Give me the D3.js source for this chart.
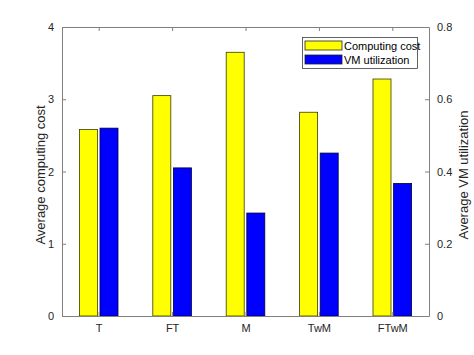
<!DOCTYPE html>
<html><head><meta charset="utf-8">
<script src="https://cdn.jsdelivr.net/npm/d3@7"></script>
<style>body{margin:0;background:#fff}svg{display:block}text{font-family:"Liberation Sans",Arial,sans-serif}</style>
</head><body><svg id="c" width="474" height="355"></svg>
<script>
const categories = ["T","FT","M","TwM","FTwM"];
const computingCost = [2.58, 3.05, 3.65, 2.82, 3.28];
const vmUtilization = [0.52, 0.41, 0.285, 0.451, 0.367];
const leftTicks = [0,1,2,3,4];
const rightTicks = [0,0.2,0.4,0.6,0.8];
const seriesNames = ["Computing cost","VM utilization"];

(function(){
const svg = d3.select("#c");
const L=62,R=429,T=27,B=316;
const x = d3.scaleLinear().domain([0.5,5.5]).range([L,R]);
const yl = d3.scaleLinear().domain([0,4]).range([B,T]);
const yr = d3.scaleLinear().domain([0,0.8]).range([B,T]);
const bw = 18, off = 10.3;
const axisCol="#808080", txtCol="#262626";

const g = svg.append("g");
g.selectAll(".yb").data(computingCost).join("rect")
 .attr("x",(d,i)=>x(i+1)-off-bw/2).attr("y",d=>yl(d)).attr("width",bw).attr("height",d=>B-yl(d))
 .attr("fill","#ffff00").attr("stroke","#3a3a00").attr("stroke-width",0.8);
g.selectAll(".bb").data(vmUtilization).join("rect")
 .attr("x",(d,i)=>x(i+1)+off-bw/2).attr("y",d=>yr(d)).attr("width",bw).attr("height",d=>B-yr(d))
 .attr("fill","#0000ff").attr("stroke","#000033").attr("stroke-width",0.8);

const tl=4;
const axBottom = d3.axisBottom(x).tickValues(d3.range(1,6)).tickFormat((d,i)=>categories[i]).tickSizeInner(-tl).tickSizeOuter(0).tickPadding(8);
const axTop = d3.axisTop(x).tickValues(d3.range(1,6)).tickFormat("").tickSizeInner(-tl).tickSizeOuter(0);
const axLeft = d3.axisLeft(yl).tickValues(leftTicks).tickFormat(d3.format("d")).tickSizeInner(-tl).tickSizeOuter(0).tickPadding(8);
const axRight = d3.axisRight(yr).tickValues(rightTicks).tickFormat(d=>d===0?"0":d3.format(".1f")(d)).tickSizeInner(-tl).tickSizeOuter(0).tickPadding(8);
function style(s){s.selectAll("path,line").attr("stroke",axisCol);s.selectAll("text").attr("fill",txtCol).attr("font-size",11).attr("font-family","Liberation Sans, Arial, sans-serif");s.attr("font-size",11);}
svg.append("g").attr("transform",`translate(0,${B})`).call(axBottom).call(style);
svg.append("g").attr("transform",`translate(0,${T})`).call(axTop).call(style);
svg.append("g").attr("transform",`translate(${L},0)`).call(axLeft).call(style);
svg.append("g").attr("transform",`translate(${R},0)`).call(axRight).call(style);

svg.append("text").attr("transform",`translate(45,175) rotate(-90)`).attr("text-anchor","middle")
 .attr("font-size",13).attr("fill",txtCol).text("Average computing cost");
svg.append("text").attr("transform",`translate(468,175) rotate(-90)`).attr("text-anchor","middle")
 .attr("font-size",13).attr("fill",txtCol).text("Average VM utilization");

const lg = svg.append("g");
lg.append("rect").attr("x",302.5).attr("y",37.5).attr("width",115).attr("height",31).attr("fill","#fff").attr("stroke","#3c3c3c").attr("stroke-width",0.8);
const cols=["#ffff00","#0000ff"];
seriesNames.forEach((n,i)=>{
  const yy = 41 + i*14;
  lg.append("rect").attr("x",305).attr("y",yy).attr("width",37).attr("height",9).attr("fill",cols[i]).attr("stroke","#222").attr("stroke-width",0.8);
  lg.append("text").attr("x",344).attr("y",yy+8.5).attr("font-size",11).attr("fill","#000").text(n);
});
})();
</script></body></html>
